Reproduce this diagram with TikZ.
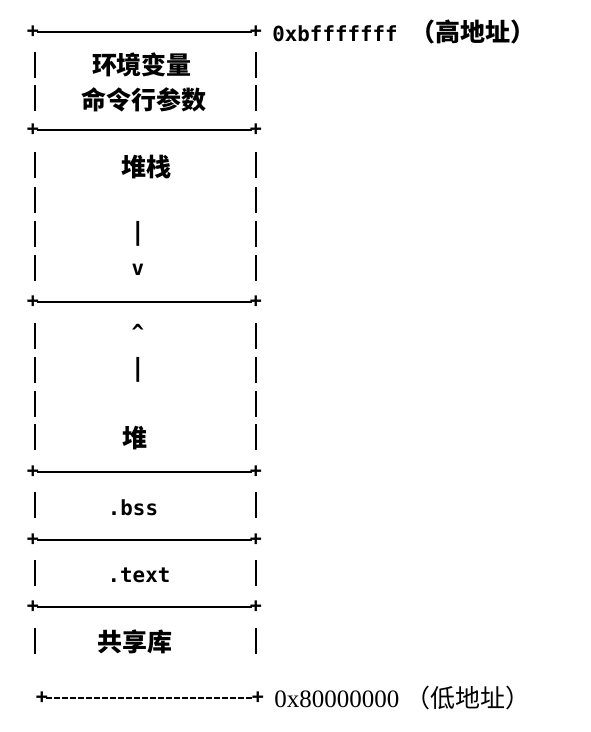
\documentclass[tikz,border=0pt]{standalone}
\usepackage{fontspec}
\setmonofont{DejaVu Sans Mono}
\newfontfamily\cjk{Noto Sans CJK SC}
\newfontfamily\addrfont{Liberation Serif}
\usetikzlibrary{positioning}
\begin{document}
\begin{tikzpicture}[x=1pt, y=-1pt,
    corner/.style = {inner sep=0pt, font=\ttfamily\bfseries\fontsize{20}{20}\selectfont},
    seg/.style = {inner sep=0pt, font=\cjk\bfseries\fontsize{25}{25}\selectfont},
    ascii/.style = {inner sep=0pt, font=\ttfamily\bfseries\fontsize{20.8}{24}\selectfont},
    rule/.style = {line width=1.5pt, shorten <=-2pt, shorten >=-2pt},
    side/.style = {line width=2.2pt}]
    \useasboundingbox (0,0) rectangle (591,732);
    % segment borders
    \foreach \i/\y in {0/32, 1/130, 2/302, 3/472, 4/540, 5/607} {
        \node[corner] (l\i) at (33,\y) {+};
        \node[corner] (r\i) at (256,\y) {+};
        \draw[rule] (l\i) -- (r\i);
    }
    \foreach \y in {65, 98, 165, 200, 234, 268, 336, 370, 404, 437, 505, 573, 641}
        \draw[side] (35,\y-13) -- (35,\y+13) (256,\y-13) -- (256,\y+13);
    % segment names
    \node[seg] (env) at (142,65) {环境变量};
    \node[seg] (args) at (144,100) {命令行参数};
    \node[seg] (stack) at (146,167) {堆栈};
    \node[ascii, scale=1.2] (sbar) at (138,234) {|};
    \node[ascii] (sdown) at (138,270) {v};
    \node[ascii] (hup) at (138,332) {\textasciicircum};
    \node[ascii, scale=1.2] (hbar) at (138,370) {|};
    \node[seg] (heap) at (135,438) {堆};
    \node[ascii] (bss) at (133,508) {.bss};
    \node[ascii] (text) at (139,575) {.text};
    \node[seg] (shlib) at (135,642) {共享库};
    % addresses
    \node[ascii, right=10pt of r0] (high) {0xbfffffff\ {\cjk\bfseries\fontsize{25}{25}\selectfont （高地址）}};
    \node[corner] (lb) at (42,698) {+};
    \node[corner] (rb) at (258,698) {+};
    \draw[line width=1.3pt, dash pattern=on 6pt off 2pt, shorten <=-2pt, shorten >=-2pt] (lb) -- (rb);
    \node[right=10pt of rb, inner sep=0pt, font=\addrfont\fontsize{25}{25}\selectfont] (low) {0x80000000\ {\cjk （低地址）}};
\end{tikzpicture}
\end{document}
